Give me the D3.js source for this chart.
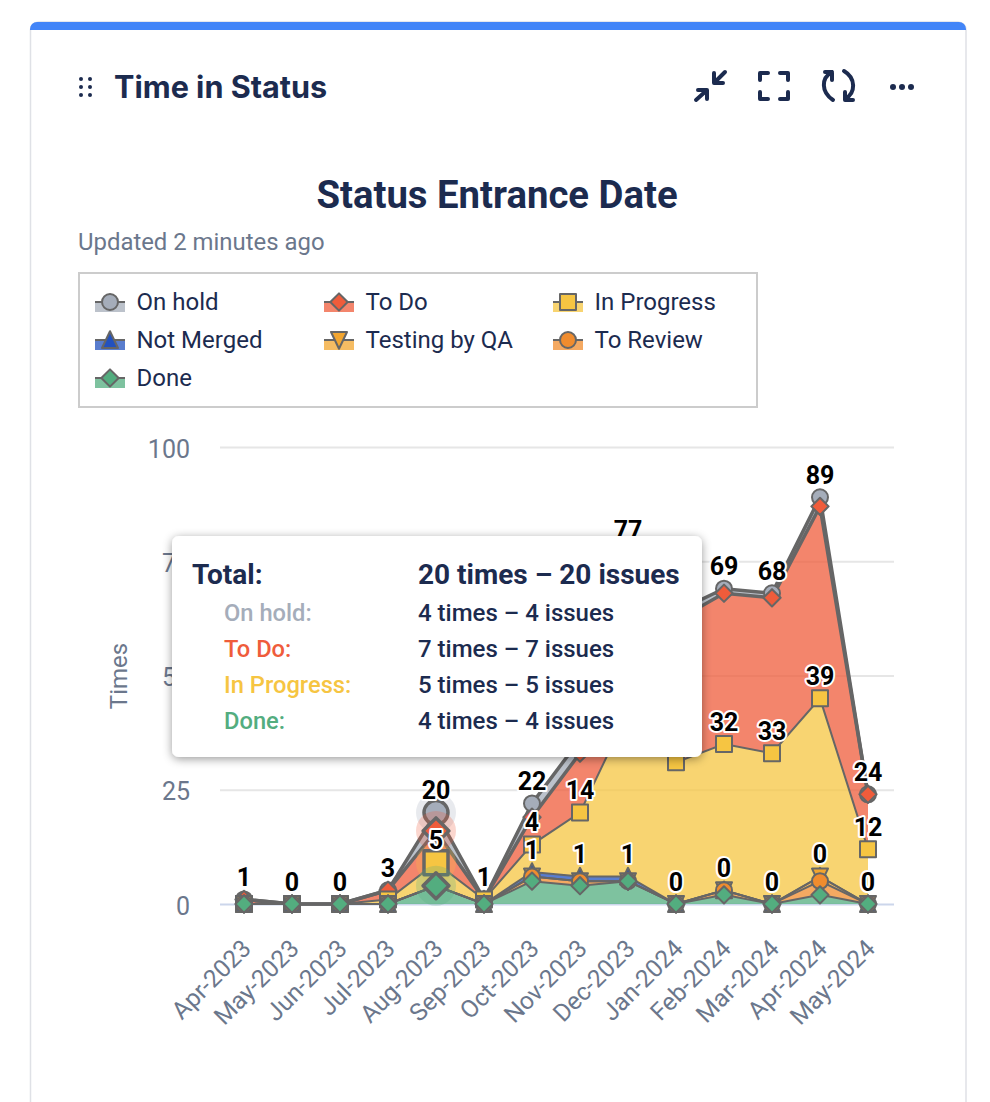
<!DOCTYPE html>
<html>
<head>
<meta charset="utf-8">
<title>Time in Status</title>
<script src="https://cdn.jsdelivr.net/npm/d3@7"></script>
<style>
  html, body { margin: 0; padding: 0; background: #fff; overflow: hidden; }
  text { font-family: Roboto, sans-serif; }
</style>
</head>
<body>
<svg id="chart" width="990" height="1102"></svg>
<script>
const months = ['Apr-2023', 'May-2023', 'Jun-2023', 'Jul-2023', 'Aug-2023', 'Sep-2023', 'Oct-2023',
  'Nov-2023', 'Dec-2023', 'Jan-2024', 'Feb-2024', 'Mar-2024', 'Apr-2024', 'May-2024'];

const onHold     = [0, 0, 0, 0, 4, 0, 3, 3, 4, 2, 1, 1, 2, 0];
const toDo       = [1, 0, 0, 2, 7, 0, 6, 13, 31, 31, 33, 34, 42, 12];
const inProgress = [0, 0, 0, 1, 5, 1, 6, 14, 36, 31, 32, 33, 39, 12];
const notMerged  = [0, 0, 0, 0, 0, 0, 1, 1, 1, 0, 0, 0, 0, 0];
const testingQa  = [0, 0, 0, 0, 0, 0, 0, 0, 0, 0, 0, 0, 1, 0];
const toReview   = [0, 0, 0, 0, 0, 0, 1, 1, 0, 0, 1, 0, 3, 0];
const done       = [0, 0, 0, 0, 4, 0, 5, 4, 5, 0, 2, 0, 2, 0];

// labels as they read in the picture, null where the tooltip hides them
const totalLabels      = [1, 0, 0, 3, 20, 1, 22, null, 77, null, 69, 68, 89, 24];
const inProgressLabels = [null, null, null, null, 5, null, 4, 14, null, null, 32, 33, 39, 12];
const notMergedLabels  = [null, null, null, null, null, null, 1, 1, 1, 0, 0, 0, 0, 0];

const yTicks = [0, 25, 50, 75, 100];

const statusNames  = ['On hold', 'To Do', 'In Progress', 'Not Merged', 'Testing by QA', 'To Review', 'Done'];
const statusValues = [onHold, toDo, inProgress, notMerged, testingQa, toReview, done];
const statusColors = ['#a5adba', '#ef5c3b', '#f6c542', '#2251be', '#f2a52f', '#f08c2e', '#53ad7f'];
const statusShapes = ['circle', 'diamond', 'square', 'up', 'down', 'circle', 'diamond'];

const tooltipNames  = ['On hold:', 'To Do:', 'In Progress:', 'Done:'];
const tooltipTexts  = ['4 times – 4 issues', '7 times – 7 issues', '5 times – 5 issues', '4 times – 4 issues'];
const tooltipColors = ['#a5adba', '#ef5c3b', '#f6c542', '#53ad7f'];

const hoverMonth = 'Aug-2023';
const navy = '#1c2b4f';
const grey = '#6b778c';

const svg = d3.select('#chart');

// drop shadow of the tooltip
svg.append('defs').append('filter')
  .attr('id', 'shadow').attr('x', '-10%').attr('y', '-15%').attr('width', '120%').attr('height', '130%')
  .append('feDropShadow')
  .attr('dx', 0).attr('dy', 2).attr('stdDeviation', 5)
  .attr('flood-color', '#000').attr('flood-opacity', 0.4);

// Card
svg.append('path')
  .attr('d', 'M30.5,1102V30a8,8 0 0 1 8,-8H958a8,8 0 0 1 8,8V1102')
  .attr('fill', '#fff').attr('stroke', '#dfe1e6').attr('stroke-width', 1.5);
svg.append('path')
  .attr('d', 'M30,30v-1a7,7 0 0 1 7,-7H959a7,7 0 0 1 7,7v1Z')
  .attr('fill', '#4285f8');

svg.append('g').selectAll('circle')
  .data(d3.cross([81, 90], [79, 87, 95]))
  .join('circle')
  .attr('cx', d => d[0]).attr('cy', d => d[1]).attr('r', 2)
  .attr('fill', navy);

svg.append('text').attr('x', 114).attr('y', 98)
  .style('font-family', 'Inter, sans-serif').style('font-weight', 700).style('font-size', '30.6px')
  .attr('fill', navy).text('Time in Status');

// Header icons
const icons = svg.append('g').attr('fill', 'none').attr('stroke', navy)
  .attr('stroke-width', 4).attr('stroke-linecap', 'round').attr('stroke-linejoin', 'round');
icons.append('path').attr('d', 'M696,100L706,91M698,90H707V99M725,72L715,82M714,73V83H723');
icons.append('path').attr('d', 'M760,80V73H768M780,73H788V80M788,92V99H780M768,99H760V92');
icons.append('path').attr('d', 'M832,72C821,78 821,92 833,100M825,72H832V80');
icons.append('path').attr('d', 'M845,99C856,93 856,78 844,71M845,92V100H853');
svg.append('g').selectAll('circle')
  .data([893, 902, 911])
  .join('circle')
  .attr('cx', d => d).attr('cy', 87).attr('r', 3).attr('fill', navy);

svg.append('text').attr('x', 497).attr('y', 208).attr('text-anchor', 'middle')
  .style('font-weight', 700).style('font-size', '38.3px').attr('fill', navy)
  .text('Status Entrance Date');
svg.append('text').attr('x', 78).attr('y', 250)
  .style('font-size', '23.9px').attr('fill', grey).text('Updated 2 minutes ago');

// Scales
const x = d3.scalePoint().domain(months).range([220, 892]).padding(0.5);
const y = d3.scaleLinear().domain([0, 100]).range([904, 447]);

// Axes
const yAxis = svg.append('g').attr('transform', 'translate(220,0)')
  .call(d3.axisLeft(y).tickValues(yTicks).tickSize(-674).tickPadding(30));
yAxis.select('.domain').remove();
yAxis.selectAll('line').attr('stroke', d => d === 0 ? '#ccd6eb' : '#e6e6e6').attr('stroke-width', 2);
yAxis.selectAll('text').attr('fill', grey).attr('y', 2).style('font-size', '25px');

const xAxis = svg.append('g').attr('transform', 'translate(0,904)')
  .call(d3.axisBottom(x).tickSize(0));
xAxis.select('.domain').remove();
xAxis.selectAll('text')
  .attr('fill', grey).style('font-size', '24.5px')
  .attr('text-anchor', 'end')
  .attr('dx', 0).attr('dy', 0).attr('y', 0)
  .attr('transform', 'translate(8,46) rotate(-45)');

svg.append('text').attr('transform', 'translate(127,676) rotate(-90)')
  .attr('text-anchor', 'middle').style('font-size', '24px').attr('fill', grey).text('Times');

// Stack, Done at the bottom and On hold on top
const rows = months.map((m, i) => {
  const row = { month: m };
  statusNames.forEach((name, s) => { row[name] = statusValues[s][i]; });
  return row;
});
const series = d3.stack().keys(statusNames.slice().reverse())(rows);
const byName = {};
series.forEach(s => { byName[s.key] = s; });

const area = d3.area().x(d => x(d.data.month)).y0(d => y(d[0])).y1(d => y(d[1]));
const line = d3.line().x(d => x(d.data.month)).y(d => y(d[1]));

function drawMarker(sel, shape, color, r) {
  let node;
  if (shape === 'circle') {
    node = sel.append('circle').attr('r', r);
  } else if (shape === 'square') {
    node = sel.append('rect').attr('x', -r).attr('y', -r).attr('width', 2 * r).attr('height', 2 * r);
  } else if (shape === 'diamond') {
    const q = r * 1.08;
    node = sel.append('path').attr('d', `M0,${-q}L${q},0L0,${q}L${-q},0Z`);
  } else if (shape === 'up') {
    node = sel.append('path').attr('d', `M0,${-r * 1.1}L${r},${r}L${-r},${r}Z`);
  } else {
    node = sel.append('path').attr('d', `M${-r},${-r}L${r},${-r}L0,${r * 1.1}Z`);
  }
  node.attr('fill', color).attr('stroke', '#666').attr('stroke-width', 2).attr('stroke-linejoin', 'round');
  return node;
}

// Areas and lines, first legend entry lies lowest
statusNames.forEach((name, s) => {
  svg.append('path').datum(byName[name])
    .attr('d', area).attr('fill', statusColors[s]).attr('fill-opacity', 0.75);
});
statusNames.forEach((name, s) => {
  svg.append('path').datum(byName[name])
    .attr('d', line).attr('fill', 'none').attr('stroke', '#666').attr('stroke-width', s < 2 ? 3.5 : 2);
});

// Markers, the hovered month is drawn larger with a halo
statusNames.forEach((name, s) => {
  const points = svg.append('g').selectAll('g')
    .data(byName[name])
    .join('g')
    .attr('transform', d => `translate(${x(d.data.month)},${y(d[1])})`);

  points.each(function(d, i) {
    const hovered = d.data.month === hoverMonth;
    const g = d3.select(this);
    if (hovered && statusValues[s][i] === 0) {
      return;
    }
    if (hovered) {
      g.append('circle').attr('r', 20).attr('fill', statusColors[s]).attr('fill-opacity', 0.25);
    }
    const node = drawMarker(g, statusShapes[s], statusColors[s], hovered ? 12 : 8);
    if (hovered) {
      node.attr('stroke-width', 3.5);
    }
  });
});

// Value labels
function drawLabels(data, texts) {
  const labelled = data.map((d, i) => ({ month: d.data.month, top: d[1], label: texts[i] }))
    .filter(d => d.label !== null);
  svg.append('g').selectAll('text')
    .data(labelled)
    .join('text')
    .attr('x', d => x(d.month))
    .attr('y', d => y(d.top) - 13.5)
    .attr('text-anchor', 'middle')
    .style('font-weight', 700).style('font-size', '25px')
    .style('paint-order', 'stroke')
    .attr('fill', '#000').attr('stroke', '#fff').attr('stroke-width', 4).attr('stroke-linejoin', 'round')
    .text(d => d.label);
}
drawLabels(byName['Not Merged'], notMergedLabels);
drawLabels(byName['In Progress'], inProgressLabels);
drawLabels(byName['On hold'], totalLabels);

// Legend
svg.append('rect').attr('x', 79).attr('y', 273).attr('width', 678).attr('height', 134)
  .attr('fill', '#fff').attr('stroke', '#ccc').attr('stroke-width', 2);

const legendX = d3.scaleOrdinal().domain([0, 1, 2]).range([95, 324, 553]);
const legendY = d3.scaleOrdinal().domain([0, 1, 2]).range([302, 340, 378]);

const legend = svg.append('g').selectAll('g')
  .data(statusNames)
  .join('g')
  .attr('transform', (d, i) => `translate(${legendX(i % 3)},${legendY(Math.floor(i / 3))})`);

legend.append('rect').attr('y', 0).attr('width', 30).attr('height', 10)
  .attr('fill', (d, i) => statusColors[i]).attr('fill-opacity', 0.75);
legend.append('line').attr('x2', 30).attr('stroke', '#666').attr('stroke-width', 2);
legend.each(function(d, i) {
  const g = d3.select(this).append('g').attr('transform', 'translate(15,0)');
  drawMarker(g, statusShapes[i], statusColors[i], 8);
});
legend.append('text').attr('x', 41.5).attr('y', 8)
  .style('font-size', '24px').attr('fill', navy).text(d => d);

// Tooltip
const tip = svg.append('g').attr('transform', 'translate(172,536)');
tip.append('rect').attr('width', 530).attr('height', 221).attr('rx', 7)
  .attr('fill', '#fff').attr('filter', 'url(#shadow)');
tip.append('text').attr('x', 20).attr('y', 48)
  .style('font-weight', 700).style('font-size', '28px').attr('fill', navy).text('Total:');
tip.append('text').attr('x', 246).attr('y', 48)
  .style('font-weight', 700).style('font-size', '28px').attr('fill', navy).text('20 times – 20 issues');

tip.append('g').selectAll('text')
  .data(tooltipNames)
  .join('text')
  .attr('x', 52).attr('y', (d, i) => 85 + i * 36)
  .style('font-weight', 500).style('font-size', '23.7px')
  .attr('fill', (d, i) => tooltipColors[i]).text(d => d);
tip.append('g').selectAll('text')
  .data(tooltipTexts)
  .join('text')
  .attr('x', 246).attr('y', (d, i) => 85 + i * 36)
  .style('font-weight', 500).style('font-size', '24px')
  .attr('fill', navy).text(d => d);
</script>
</body>
</html>
